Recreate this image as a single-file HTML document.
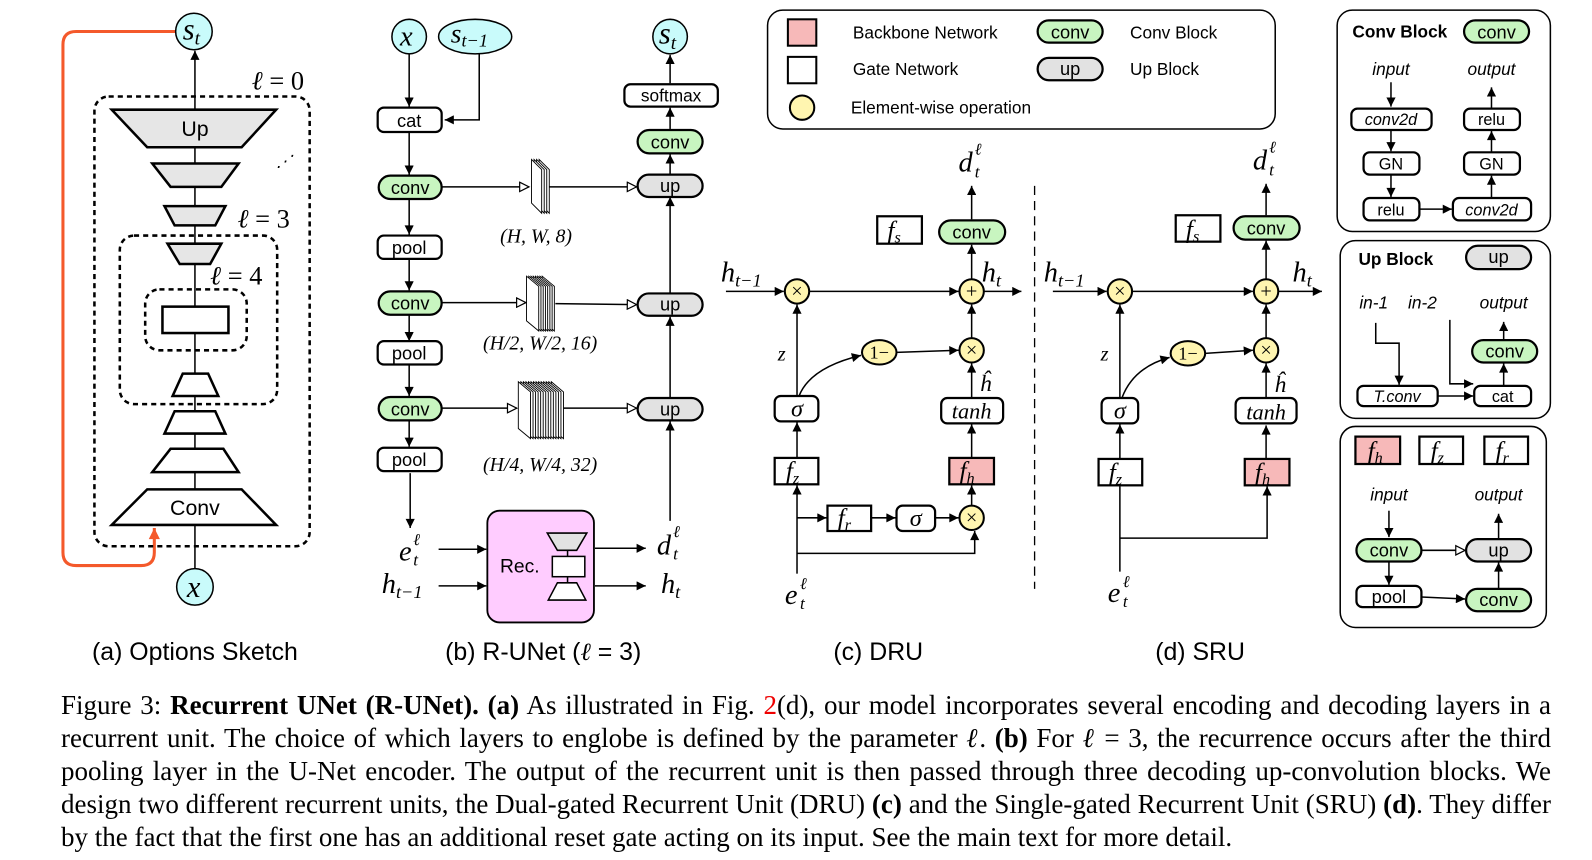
<!DOCTYPE html>
<html><head><meta charset="utf-8"><style>
html,body{margin:0;padding:0;background:#fff;}
#w{position:relative;width:1592px;height:860px;overflow:hidden;}
svg{position:absolute;left:0;top:0;}
.cap{position:absolute;left:61px;width:1490px;font-family:"Liberation Serif",serif;font-size:27px;line-height:33px;white-space:nowrap;color:#000;}
.j{text-align:justify;text-align-last:justify;}
</style></head><body><div id="w">
<svg width="1592" height="860" viewBox="0 0 1568 847" xmlns="http://www.w3.org/2000/svg" font-family="Liberation Sans, sans-serif">
<defs>
<marker id="a" viewBox="0 0 10 10" refX="10" refY="5" markerWidth="10" markerHeight="9" markerUnits="userSpaceOnUse" orient="auto"><path d="M0,0L10,5L0,10z" fill="#000"/></marker>
<marker id="h" viewBox="0 0 12 12" refX="11" refY="6" markerWidth="12" markerHeight="11" markerUnits="userSpaceOnUse" orient="auto"><path d="M1,1L11,6L1,11z" fill="#fff" stroke="#000" stroke-width="1.3"/></marker>
<marker id="o" viewBox="0 0 10 10" refX="10" refY="5" markerWidth="12" markerHeight="11" markerUnits="userSpaceOnUse" orient="auto"><path d="M0,0L10,5L0,10z" fill="#f4592b"/></marker>
</defs>
<g stroke="#000" stroke-width="1.5" fill="none">
<!-- (a) -->
<path d="M174,31 H75 Q62,31 62,44 V544 Q62,557 75,557 H139 Q152,557 152,544 V520" stroke="#f4592b" stroke-width="3" marker-end="url(#o)"/>
<line x1="192" y1="560" x2="192" y2="50" marker-end="url(#a)"/>
<rect x="93" y="95" width="212" height="443" rx="14" stroke-dasharray="5,4" stroke-width="2.5"/>
<rect x="118" y="232" width="155" height="166" rx="14" stroke-dasharray="5,4" stroke-width="2.5"/>
<rect x="143" y="285" width="100" height="60" rx="14" stroke-dasharray="5,4" stroke-width="2.5"/>
<g stroke-width="2.5">
<polygon points="110,108 272,108 238,145 145,145" fill="#e6e6e6"/>
<polygon points="150,161 235,161 218,184 168,184" fill="#e6e6e6"/>
<polygon points="162,203 222,203 212,222 172,222" fill="#e6e6e6"/>
<polygon points="165,240 218,240 207,260 177,260" fill="#e6e6e6"/>
<rect x="160" y="302" width="65" height="26" fill="#fff"/>
<polygon points="180,368 205,368 215,390 170,390" fill="#fff"/>
<polygon points="172,405 212,405 222,427 162,427" fill="#fff"/>
<polygon points="168,442 220,442 235,465 150,465" fill="#fff"/>
<polygon points="145,482 238,482 272,517 110,517" fill="#fff"/>
</g>
<circle cx="191" cy="31" r="18" fill="#c9fbfb" stroke-width="1.5"/>
<circle cx="192" cy="578" r="18" fill="#c9fbfb" stroke-width="1.5"/>
<!-- (b) -->
<circle cx="403" cy="36" r="17" fill="#c9fbfb"/>
<ellipse cx="468" cy="36" rx="36" ry="17" fill="#c9fbfb"/>
<circle cx="660" cy="36" r="17" fill="#c9fbfb"/>
<line x1="403" y1="53" x2="403" y2="105" marker-end="url(#a)"/>
<polyline points="472,53 472,118 438,118" marker-end="url(#a)"/>
<line x1="403" y1="130" x2="403" y2="172" marker-end="url(#a)"/>
<line x1="403" y1="196" x2="403" y2="231" marker-end="url(#a)"/>
<line x1="403" y1="255" x2="403" y2="286" marker-end="url(#a)"/>
<line x1="403" y1="310" x2="403" y2="336" marker-end="url(#a)"/>
<line x1="403" y1="359" x2="403" y2="390" marker-end="url(#a)"/>
<line x1="403" y1="414" x2="403" y2="440" marker-end="url(#a)"/>
<line x1="404" y1="466" x2="404" y2="520" marker-end="url(#a)"/>
<line x1="435" y1="184" x2="521" y2="184" marker-end="url(#h)"/>
<line x1="541" y1="184" x2="627" y2="184" marker-end="url(#h)"/>
<line x1="435" y1="298" x2="518" y2="298" marker-end="url(#h)"/>
<line x1="547" y1="299" x2="627" y2="300" marker-end="url(#h)"/>
<line x1="435" y1="402" x2="509" y2="402" marker-end="url(#h)"/>
<line x1="555" y1="402" x2="627" y2="402" marker-end="url(#h)"/>
<line x1="660" y1="513" x2="660" y2="415" marker-end="url(#a)"/>
<line x1="660" y1="391" x2="660" y2="312" marker-end="url(#a)"/>
<line x1="660" y1="289" x2="660" y2="194" marker-end="url(#a)"/>
<line x1="660" y1="171" x2="660" y2="152" marker-end="url(#a)"/>
<line x1="660" y1="127" x2="660" y2="106" marker-end="url(#a)"/>
<line x1="660" y1="82" x2="660" y2="54" marker-end="url(#a)"/>
<line x1="432" y1="541" x2="479" y2="541" marker-end="url(#a)"/>
<line x1="432" y1="577" x2="479" y2="577" marker-end="url(#a)"/>
<line x1="586" y1="540" x2="636" y2="540" marker-end="url(#a)"/>
<line x1="586" y1="577" x2="636" y2="577" marker-end="url(#a)"/>
<g stroke-width="2.2">
<rect x="372" y="106" width="63" height="24" rx="6" fill="#fff"/>
<rect x="373" y="173" width="62" height="23" rx="11.5" fill="#c8f5c0"/>
<rect x="372" y="232" width="63" height="23" rx="6" fill="#fff"/>
<rect x="373" y="287" width="62" height="23" rx="11.5" fill="#c8f5c0"/>
<rect x="372" y="336" width="63" height="23" rx="6" fill="#fff"/>
<rect x="373" y="391" width="62" height="23" rx="11.5" fill="#c8f5c0"/>
<rect x="372" y="441" width="63" height="23" rx="6" fill="#fff"/>
<rect x="628" y="172" width="64" height="22" rx="11" fill="#e2e2e2"/>
<rect x="628" y="289" width="64" height="22" rx="11" fill="#e2e2e2"/>
<rect x="628" y="392" width="64" height="22" rx="11" fill="#e2e2e2"/>
<rect x="628" y="128" width="64" height="23" rx="11.5" fill="#c8f5c0"/>
<rect x="615" y="83" width="92" height="22" rx="6" fill="#fff"/>
</g>
<rect x="480" y="503" width="105" height="110" rx="12" fill="#ffccff" stroke-width="1.8"/>
<polygon points="539,525 578,525 568,542 549,542" fill="#e2e2e2"/>
<line x1="559" y1="542" x2="559" y2="548"/><line x1="559" y1="568" x2="559" y2="574"/>
<rect x="544" y="548" width="32" height="20" fill="#fff"/>
<polygon points="549,574 568,574 577,591 540,591" fill="#fff"/>
<g stroke-width="0.9" fill="#fff">
<polygon points="531,157 541,167 541,210 531,200"/><polygon points="528.5,157 538.5,167 538.5,210 528.5,200"/><polygon points="526,157 536,167 536,210 526,200"/><polygon points="523.5,157 533.5,167 533.5,210 523.5,200"/>
<polygon points="534,272 546,282 546,326 534,316"/><polygon points="531.8,272 543.8,282 543.8,326 531.8,316"/><polygon points="529.6,272 541.6,282 541.6,326 529.6,316"/><polygon points="527.4,272 539.4,282 539.4,326 527.4,316"/><polygon points="525.2,272 537.2,282 537.2,326 525.2,316"/><polygon points="523,272 535,282 535,326 523,316"/><polygon points="520.8,272 532.8,282 532.8,326 520.8,316"/><polygon points="518.6,272 530.6,282 530.6,326 518.6,316"/>
<polygon points="543,376 555,386 555,432 543,422"/><polygon points="540.5,376 552.5,386 552.5,432 540.5,422"/><polygon points="538,376 550,386 550,432 538,422"/><polygon points="535.5,376 547.5,386 547.5,432 535.5,422"/><polygon points="533,376 545,386 545,432 533,422"/><polygon points="530.5,376 542.5,386 542.5,432 530.5,422"/><polygon points="528,376 540,386 540,432 528,422"/><polygon points="525.5,376 537.5,386 537.5,432 525.5,422"/><polygon points="523,376 535,386 535,432 523,422"/><polygon points="520.5,376 532.5,386 532.5,432 520.5,422"/><polygon points="518,376 530,386 530,432 518,422"/><polygon points="515.5,376 527.5,386 527.5,432 515.5,422"/><polygon points="513,376 525,386 525,432 513,422"/><polygon points="510.5,376 522.5,386 522.5,432 510.5,422"/>
</g>
<!-- legend -->
<rect x="756" y="10" width="500" height="117" rx="15" stroke-width="1.5"/>
<rect x="776" y="19" width="28" height="26" fill="#f7b9b9" stroke-width="2"/>
<rect x="776" y="56" width="28" height="26" fill="#fff" stroke-width="2"/>
<circle cx="790" cy="106" r="12" fill="#fff5b0" stroke-width="2"/>
<rect x="1022" y="20" width="64" height="22" rx="11" fill="#c8f5c0" stroke-width="2.2"/>
<rect x="1022" y="57" width="64" height="22" rx="11" fill="#e2e2e2" stroke-width="2.2"/>
<!-- DRU -->
<line x1="1019" y1="183" x2="1019" y2="580" stroke-dasharray="9,6" stroke-width="1.3"/>
<line x1="715" y1="287" x2="772" y2="287" marker-end="url(#a)"/>
<line x1="797" y1="287" x2="944" y2="287" marker-end="url(#a)"/>
<line x1="969" y1="287" x2="1006" y2="287" marker-end="url(#a)"/>
<line x1="957" y1="275" x2="957" y2="241" marker-end="url(#a)"/>
<line x1="957" y1="216" x2="957" y2="183" marker-end="url(#a)"/>
<line x1="957" y1="333" x2="957" y2="300" marker-end="url(#a)"/>
<line x1="883" y1="347" x2="944" y2="345" marker-end="url(#a)"/>
<line x1="957" y1="391" x2="957" y2="358" marker-end="url(#a)"/>
<line x1="957" y1="451" x2="957" y2="418" marker-end="url(#a)"/>
<line x1="957" y1="498" x2="957" y2="478" marker-end="url(#a)"/>
<line x1="785" y1="389" x2="785" y2="300" marker-end="url(#a)"/>
<path d="M787,390 Q798,362 848,350" marker-end="url(#a)"/>
<line x1="785" y1="451" x2="785" y2="416" marker-end="url(#a)"/>
<line x1="785" y1="565" x2="785" y2="478" marker-end="url(#a)"/>
<line x1="785" y1="510" x2="814" y2="510" marker-end="url(#a)"/>
<line x1="858" y1="510" x2="882" y2="510" marker-end="url(#a)"/>
<line x1="921" y1="510" x2="944" y2="510" marker-end="url(#a)"/>
<polyline points="785,545 960,545 960,523" marker-end="url(#a)"/>
<g stroke-width="2.2" fill="#fff">
<rect x="925" y="217" width="65" height="23" rx="11.5" fill="#c8f5c0"/>
<rect x="864" y="213" width="44" height="27"/>
<rect x="763" y="390" width="43" height="25" rx="6"/>
<rect x="927" y="392" width="61" height="25" rx="6"/>
<rect x="763" y="451" width="43" height="26"/>
<rect x="935" y="451" width="44" height="26" fill="#f7b9b9"/>
<rect x="815" y="498" width="43" height="25"/>
<rect x="883" y="498" width="38" height="25" rx="6"/>
</g>
<g stroke-width="2" fill="#fff5b0">
<circle cx="785" cy="287" r="12"/><circle cx="957" cy="287" r="12"/><circle cx="957" cy="345" r="12"/><circle cx="957" cy="510" r="12"/>
<ellipse cx="866" cy="347" rx="17" ry="12"/>
<circle cx="1103" cy="287" r="12"/><circle cx="1247" cy="287" r="12"/><circle cx="1247" cy="345" r="12"/>
<ellipse cx="1170" cy="348" rx="17" ry="12"/>
</g>
<!-- SRU -->
<line x1="1037" y1="287" x2="1090" y2="287" marker-end="url(#a)"/>
<line x1="1115" y1="287" x2="1234" y2="287" marker-end="url(#a)"/>
<line x1="1259" y1="287" x2="1302" y2="287" marker-end="url(#a)"/>
<line x1="1247" y1="275" x2="1247" y2="237" marker-end="url(#a)"/>
<line x1="1247" y1="212" x2="1247" y2="181" marker-end="url(#a)"/>
<line x1="1247" y1="333" x2="1247" y2="300" marker-end="url(#a)"/>
<line x1="1187" y1="348" x2="1234" y2="345" marker-end="url(#a)"/>
<line x1="1247" y1="392" x2="1247" y2="358" marker-end="url(#a)"/>
<line x1="1247" y1="452" x2="1247" y2="419" marker-end="url(#a)"/>
<line x1="1103" y1="391" x2="1103" y2="300" marker-end="url(#a)"/>
<path d="M1105,392 Q1116,362 1152,352" marker-end="url(#a)"/>
<line x1="1103" y1="452" x2="1103" y2="418" marker-end="url(#a)"/>
<line x1="1103" y1="563" x2="1103" y2="479"/>
<polyline points="1103,530 1248,530 1248,479" marker-end="url(#a)"/>
<g stroke-width="2.2" fill="#fff">
<rect x="1215" y="213" width="65" height="23" rx="11.5" fill="#c8f5c0"/>
<rect x="1158" y="212" width="44" height="26"/>
<rect x="1085" y="392" width="36" height="25" rx="6"/>
<rect x="1217" y="392" width="60" height="25" rx="6"/>
<rect x="1082" y="452" width="43" height="26"/>
<rect x="1226" y="452" width="44" height="26" fill="#f7b9b9"/>
</g>
<!-- right panels -->
<rect x="1317" y="10" width="210" height="218" rx="15" stroke-width="1.5"/>
<rect x="1320" y="237" width="207" height="175" rx="15" stroke-width="1.5"/>
<rect x="1320" y="420" width="203" height="198" rx="15" stroke-width="1.5"/>
<line x1="1370" y1="81" x2="1370" y2="105" marker-end="url(#a)"/>
<line x1="1370" y1="128" x2="1370" y2="149" marker-end="url(#a)"/>
<line x1="1370" y1="172" x2="1370" y2="194" marker-end="url(#a)"/>
<line x1="1398" y1="206" x2="1430" y2="206" marker-end="url(#a)"/>
<line x1="1469" y1="195" x2="1469" y2="173" marker-end="url(#a)"/>
<line x1="1469" y1="150" x2="1469" y2="129" marker-end="url(#a)"/>
<line x1="1469" y1="106" x2="1469" y2="86" marker-end="url(#a)"/>
<polyline points="1355,318 1355,338 1378,338 1378,379" marker-end="url(#a)"/>
<polyline points="1428,315 1428,378 1451,378" marker-end="url(#a)"/>
<line x1="1416" y1="390" x2="1451" y2="390" marker-end="url(#a)"/>
<line x1="1481" y1="380" x2="1481" y2="358" marker-end="url(#a)"/>
<line x1="1481" y1="334" x2="1481" y2="317" marker-end="url(#a)"/>
<line x1="1368" y1="503" x2="1368" y2="529" marker-end="url(#a)"/>
<line x1="1400" y1="542" x2="1443" y2="542" marker-end="url(#h)"/>
<line x1="1368" y1="553" x2="1368" y2="576" marker-end="url(#a)"/>
<line x1="1400" y1="588" x2="1443" y2="590" marker-end="url(#a)"/>
<line x1="1476" y1="580" x2="1476" y2="554" marker-end="url(#a)"/>
<line x1="1476" y1="530" x2="1476" y2="506" marker-end="url(#a)"/>
<g stroke-width="2.2" fill="#fff">
<rect x="1442" y="20" width="64" height="22" rx="11" fill="#c8f5c0"/>
<rect x="1331" y="107" width="79" height="21" rx="6"/>
<rect x="1343" y="150" width="55" height="22" rx="6"/>
<rect x="1343" y="195" width="55" height="22" rx="6"/>
<rect x="1442" y="107" width="55" height="21" rx="6"/>
<rect x="1442" y="150" width="55" height="22" rx="6"/>
<rect x="1431" y="195" width="77" height="22" rx="6"/>
<rect x="1444" y="242" width="64" height="23" rx="11.5" fill="#e2e2e2"/>
<rect x="1337" y="380" width="79" height="20" rx="6"/>
<rect x="1452" y="380" width="56" height="20" rx="6"/>
<rect x="1450" y="335" width="64" height="22" rx="11" fill="#c8f5c0"/>
<rect x="1335" y="430" width="44" height="27" fill="#f7b9b9"/>
<rect x="1398" y="430" width="43" height="27"/>
<rect x="1462" y="430" width="43" height="27"/>
<rect x="1336" y="531" width="64" height="22" rx="11" fill="#c8f5c0"/>
<rect x="1444" y="531" width="64" height="22" rx="11" fill="#e2e2e2"/>
<rect x="1336" y="577" width="64" height="21" rx="6"/>
<rect x="1444" y="580" width="64" height="22" rx="11" fill="#c8f5c0"/>
</g>
</g>
<!-- text -->
<g fill="#000" text-anchor="middle" font-size="18">
<text x="192" y="134" font-size="21">Up</text>
<text x="192" y="507" font-size="21">Conv</text>
<text x="403" y="125">cat</text>
<text x="404" y="191">conv</text>
<text x="403" y="250">pool</text>
<text x="404" y="305">conv</text>
<text x="403" y="354">pool</text>
<text x="404" y="409">conv</text>
<text x="403" y="459">pool</text>
<text x="660" y="189">up</text>
<text x="660" y="306">up</text>
<text x="660" y="409">up</text>
<text x="660" y="146">conv</text>
<text x="661" y="100" font-size="17">softmax</text>
<text x="512" y="564" font-size="19">Rec.</text>
<text x="1054" y="38">conv</text>
<text x="1054" y="74">up</text>
<text x="957" y="235">conv</text>
<text x="1247" y="231">conv</text>
<text x="1474" y="38">conv</text>
<text x="1476" y="259">up</text>
<text x="1482" y="352">conv</text>
<text x="1368" y="548">conv</text>
<text x="1476" y="548">up</text>
<text x="1368" y="594">pool</text>
<text x="1476" y="597">conv</text>
<g font-size="16">
<text x="1370" y="123" font-style="italic">conv2d</text>
<text x="1370" y="167">GN</text>
<text x="1370" y="212">relu</text>
<text x="1469" y="123">relu</text>
<text x="1469" y="167">GN</text>
<text x="1469" y="212" font-style="italic">conv2d</text>
<text x="1376" y="396" font-style="italic">T.conv</text>
<text x="1480" y="396">cat</text>
</g>
<g font-size="17" font-style="italic">
<text x="1370" y="74">input</text><text x="1469" y="74">output</text>
<text x="1353" y="304">in-1</text><text x="1401" y="304">in-2</text><text x="1481" y="304">output</text>
<text x="1368" y="493">input</text><text x="1476" y="493">output</text>
</g>
<g font-size="24.5">
<text x="192" y="650">(a) Options Sketch</text>
<text x="535" y="650">(b) R-UNet (<tspan font-family="Liberation Serif" font-style="italic">ℓ</tspan> = 3)</text>
<text x="865" y="650">(c) DRU</text>
<text x="1182" y="650">(d) SRU</text>
</g>
</g>
<g fill="#000" font-size="17">
<text x="840" y="38">Backbone Network</text>
<text x="840" y="74">Gate Network</text>
<text x="838" y="112">Element-wise operation</text>
<text x="1113" y="38">Conv Block</text>
<text x="1113" y="74">Up Block</text>
<text x="1332" y="37" font-weight="bold">Conv Block</text>
<text x="1338" y="261" font-weight="bold">Up Block</text>
</g>
<g fill="#000" font-family="Liberation Serif, serif" font-style="italic">
<text x="180" y="39" font-size="30">s<tspan font-size="19" dy="5">t</tspan></text>
<text x="184" y="588" font-size="30">x</text>
<text x="394" y="45" font-size="28">x</text>
<text x="444" y="42" font-size="27">s<tspan font-size="18" dy="4">t−1</tspan></text>
<text x="649" y="43" font-size="30">s<tspan font-size="19" dy="5">t</tspan></text>
<text x="248" y="88" font-size="26">ℓ<tspan font-style="normal"> = 0</tspan></text>
<text x="234" y="224" font-size="26">ℓ<tspan font-style="normal"> = 3</tspan></text>
<text x="207" y="280" font-size="26">ℓ<tspan font-style="normal"> = 4</tspan></text>
<text x="272" y="164" font-size="16">⋰</text>
<g font-size="19.5" text-anchor="middle">
<text x="528" y="239">(H, W, 8)</text>
<text x="532" y="344">(H/2, W/2, 16)</text>
<text x="532" y="464">(H/4, W/4, 32)</text>
</g>
<text x="393" y="552" font-size="28">e</text><text x="407" y="537" font-size="16">ℓ</text><text x="407" y="557" font-size="17">t</text>
<text x="376" y="584" font-size="28">h<tspan font-size="18" dy="5">t−1</tspan></text>
<text x="647" y="546" font-size="28">d</text><text x="663" y="529" font-size="16">ℓ</text><text x="663" y="551" font-size="17">t</text>
<text x="651" y="584" font-size="28">h<tspan font-size="18" dy="5">t</tspan></text>
<!-- DRU -->
<text x="710" y="277" font-size="28">h<tspan font-size="18" dy="5">t−1</tspan></text>
<text x="967" y="277" font-size="28">h<tspan font-size="18" dy="5">t</tspan></text>
<text x="944" y="169" font-size="28">d</text><text x="960" y="152" font-size="16">ℓ</text><text x="960" y="175" font-size="17">t</text>
<text x="874" y="235" font-size="25">f<tspan font-size="16" dy="4">s</tspan></text>
<text x="766" y="355" font-size="20">z</text>
<text x="965" y="385" font-size="23">ĥ</text>
<text x="785" y="410" font-size="24" text-anchor="middle">σ</text>
<text x="957" y="412" font-size="22" text-anchor="middle">tanh</text>
<text x="774" y="472" font-size="25">f<tspan font-size="16" dy="4">z</tspan></text>
<text x="945" y="472" font-size="25">f<tspan font-size="16" dy="4">h</tspan></text>
<text x="825" y="518" font-size="25">f<tspan font-size="16" dy="4">r</tspan></text>
<text x="902" y="518" font-size="24" text-anchor="middle">σ</text>
<text x="773" y="595" font-size="28">e</text><text x="788" y="580" font-size="16">ℓ</text><text x="788" y="600" font-size="17">t</text>
<!-- SRU -->
<text x="1028" y="277" font-size="28">h<tspan font-size="18" dy="5">t−1</tspan></text>
<text x="1273" y="277" font-size="28">h<tspan font-size="18" dy="5">t</tspan></text>
<text x="1234" y="167" font-size="28">d</text><text x="1250" y="150" font-size="16">ℓ</text><text x="1250" y="173" font-size="17">t</text>
<text x="1168" y="234" font-size="25">f<tspan font-size="16" dy="4">s</tspan></text>
<text x="1084" y="355" font-size="20">z</text>
<text x="1255" y="386" font-size="23">ĥ</text>
<text x="1103" y="412" font-size="24" text-anchor="middle">σ</text>
<text x="1247" y="413" font-size="22" text-anchor="middle">tanh</text>
<text x="1092" y="473" font-size="25">f<tspan font-size="16" dy="4">z</tspan></text>
<text x="1236" y="473" font-size="25">f<tspan font-size="16" dy="4">h</tspan></text>
<text x="1091" y="593" font-size="28">e</text><text x="1106" y="578" font-size="16">ℓ</text><text x="1106" y="598" font-size="17">t</text>
<!-- panel f -->
<text x="1347" y="452" font-size="25">f<tspan font-size="16" dy="4">h</tspan></text>
<text x="1409" y="452" font-size="25">f<tspan font-size="16" dy="4">z</tspan></text>
<text x="1473" y="452" font-size="25">f<tspan font-size="16" dy="4">r</tspan></text>
</g>
<g fill="#000" font-family="Liberation Serif, serif" text-anchor="middle">
<text x="785" y="293" font-size="20">×</text>
<text x="957" y="293" font-size="20">+</text>
<text x="957" y="351" font-size="20">×</text>
<text x="957" y="516" font-size="20">×</text>
<text x="866" y="353" font-size="18">1−</text>
<text x="1103" y="293" font-size="20">×</text>
<text x="1247" y="293" font-size="20">+</text>
<text x="1247" y="351" font-size="20">×</text>
<text x="1170" y="354" font-size="18">1−</text>
</g>
</svg>
<div class="cap j" style="top:689px">Figure 3: <b>Recurrent UNet (R-UNet). (a)</b> As illustrated in Fig. <span style="color:#e00">2</span>(d), our model incorporates several encoding and decoding layers in a</div>
<div class="cap j" style="top:722px">recurrent unit. The choice of which layers to englobe is defined by the parameter <i>ℓ</i>. <b>(b)</b> For <i>ℓ</i> = 3, the recurrence occurs after the third</div>
<div class="cap j" style="top:755px">pooling layer in the U-Net encoder. The output of the recurrent unit is then passed through three decoding up-convolution blocks. We</div>
<div class="cap j" style="top:788px">design two different recurrent units, the Dual-gated Recurrent Unit (DRU) <b>(c)</b> and the Single-gated Recurrent Unit (SRU) <b>(d)</b>. They differ</div>
<div class="cap" style="top:821px">by the fact that the first one has an additional reset gate acting on its input. See the main text for more detail.</div>
</div></body></html>
